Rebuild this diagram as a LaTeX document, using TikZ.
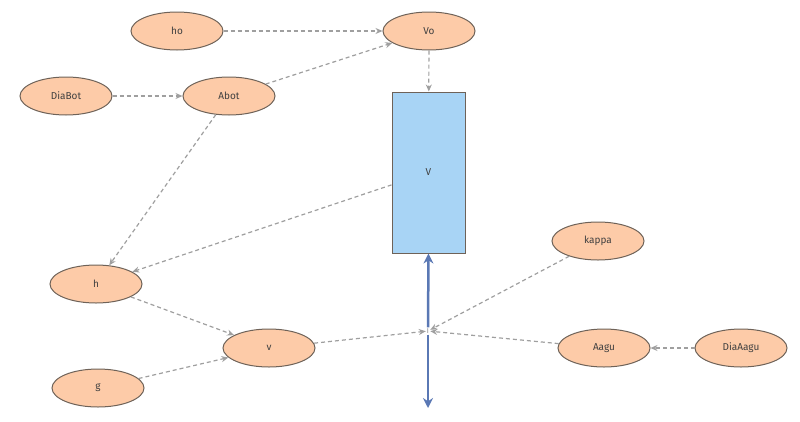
\documentclass[tikz,border=0pt]{standalone}
\usepackage{fontspec}
\setmainfont{Fira Sans}
\usetikzlibrary{shapes.geometric,arrows.meta}
\definecolor{peach}{HTML}{FDCBA8}
\definecolor{edge}{HTML}{6E6258}
\definecolor{stockc}{HTML}{A8D4F5}
\definecolor{flowc}{HTML}{5A78B4}
\begin{document}
\begin{tikzpicture}[x=1pt,y=-1pt,
  aux/.style={ellipse,draw=edge,fill=peach,line width=1pt,minimum width=92pt,minimum height=38pt,font=\normalsize,text=black!75},
  dep/.style={draw=gray!75,line width=1.2pt,dash pattern=on 4pt off 3pt,-{Stealth[length=7pt,width=6pt]}},
  flowline/.style={draw=flowc,line width=2.5pt},
  flowtip/.style={-{Stealth[length=10pt,width=10pt]}}]
\useasboundingbox (0,0) rectangle (800,421);
\node[aux] (ho) at (177,31) {ho};
\node[aux] (Vo) at (429,31) {Vo};
\node[aux] (DiaBot) at (66,96) {DiaBot};
\node[aux] (Abot) at (229,96) {Abot};
\node[aux] (h) at (96,284) {h};
\node[aux] (v) at (269,348) {v};
\node[aux] (g) at (98,388) {g};
\node[aux] (kappa) at (598,241) {kappa};
\node[aux] (Aagu) at (604,348) {Aagu};
\node[aux] (DiaAagu) at (741,348) {DiaAagu};
\node[draw=edge,fill=stockc,line width=1pt,minimum width=73pt,minimum height=161pt,font=\normalsize,text=black!75] (V) at (428.5,172.5) {V};
\node[inner sep=1pt,font=\scriptsize,text=gray] (valve) at (428,331) {I};
\coordinate (cloud) at (428,408);
\draw[flowline,flowtip] (valve.north) -- (V.south);
\draw[flowline,flowtip] (valve.south) -- (cloud);
\draw[dep] (ho) -- (Vo);
\draw[dep] (Abot) -- (Vo);
\draw[dep] (DiaBot) -- (Abot);
\draw[dep] (Vo) -- (V);
\draw[dep] (Abot) -- (h);
\draw[dep] (V) -- (h);
\draw[dep] (h) -- (v);
\draw[dep] (g) -- (v);
\draw[dep] (v) -- (valve);
\draw[dep] (kappa) -- (valve);
\draw[dep] (Aagu) -- (valve);
\draw[dep] (DiaAagu) -- (Aagu);
\end{tikzpicture}
\end{document}
